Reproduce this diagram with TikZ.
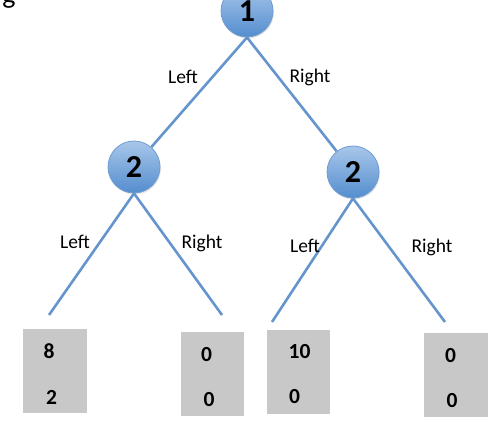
\documentclass[tikz,border=0pt]{standalone}
\usepackage{fontspec}
\setmainfont{Carlito}
\usetikzlibrary{shadows,backgrounds}
\definecolor{edgeblue}{RGB}{100,149,205}
\definecolor{nodetop}{RGB}{168,199,234}
\definecolor{nodebot}{RGB}{84,141,206}
\definecolor{nodeline}{RGB}{112,156,210}
\definecolor{boxgray}{RGB}{200,200,200}
\begin{document}
\begin{tikzpicture}[x=1pt,y=-1pt,
  treenode/.style={circle, minimum size=52pt, inner sep=0pt, draw=nodeline, line width=0.8pt,
    top color=nodetop, bottom color=nodebot, font=\fontsize{32}{34}\selectfont\bfseries,
    drop shadow={opacity=0.2,shadow xshift=1pt,shadow yshift=-1.5pt}},
  edge/.style={draw=edgeblue, line width=2.6pt},
  lbl/.style={font=\fontsize{19.5}{22}\selectfont, inner sep=0pt, anchor=base},
  leafbox/.style={fill=boxgray, minimum width=64pt, minimum height=84pt, inner sep=0pt},
  num/.style={font=\fontsize{21.5}{23}\selectfont\bfseries, inner sep=0pt}]
\useasboundingbox (0,0) rectangle (496,423);
% partial letter at top left
\node[anchor=base, font=\fontsize{28}{30}\selectfont, inner sep=0pt] (g) at (9,3) {g};
% tree nodes
\node[treenode] (n1) at (247,11) {\raisebox{-1.5pt}{1}};
\node[treenode] (n2l) at (134,167) {2};
\node[treenode] (n2r) at (353,172) {2};
% free ends
\coordinate (e1) at (49,315);
\coordinate (e2) at (222,315);
\coordinate (e3) at (272,322);
\coordinate (e4) at (445,322);
\begin{scope}[on background layer]
\draw[edge] (n1.south) -- (n2l);
\draw[edge] (n1.south) -- (n2r);
\draw[edge] (n2l.south) -- (e1);
\draw[edge] (n2l.south) -- (e2);
\draw[edge] (n2r.south) -- (e3);
\draw[edge] (n2r.south) -- (e4);
\end{scope}
% edge labels
\node[lbl] (l1) at (183,83) {Left};
\node[lbl] (r1) at (310,82) {Right};
\node[lbl] (l2) at (75,248) {Left};
\node[lbl] (r2) at (202,248) {Right};
\node[lbl] (l3) at (305,252) {Left};
\node[lbl] (r3) at (432,252) {Right};
% leaf boxes
\node[leafbox] (b1) at (55,371) {};
\node[leafbox, minimum width=63pt] (b2) at (212.5,374) {};
\node[leafbox, minimum width=63pt] (b3) at (298.5,372) {};
\node[leafbox] (b4) at (456,375) {};
\node[num] (b1t) at (49,351.5) {8};
\node[num] (b1b) at (51.5,397.5) {2};
\node[num] (b2t) at (206.5,355) {0};
\node[num] (b2b) at (209,399.5) {0};
\node[num] (b3t) at (299.5,352) {10};
\node[num] (b3b) at (294.5,397) {0};
\node[num] (b4t) at (450.5,356) {0};
\node[num] (b4b) at (452,400.5) {0};
\end{tikzpicture}
\end{document}
